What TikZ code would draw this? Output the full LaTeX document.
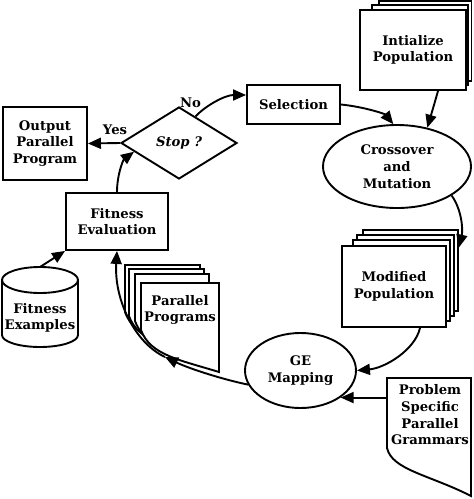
\documentclass[tikz,border=0pt]{standalone}
\usepackage{fontspec}
\setmainfont{DejaVu Serif}
\usetikzlibrary{arrows.meta,shapes.geometric}
\begin{document}
\begin{tikzpicture}[x=1pt,y=-1pt,line width=1.9pt,
  txt/.style={font=\bfseries\fontsize{13.2}{16.7}\selectfont,align=center,inner sep=0pt},
  sheet/.style={draw,fill=white,line width=1.9pt},
  arr/.style={draw,line width=1.9pt,-{Triangle[length=13pt,width=11pt]}}]
\useasboundingbox (0,0) rectangle (474,499);

% Intialize Population
\draw[sheet] (379,1) rectangle (471.5,81);
\draw[sheet] (372,5) rectangle (468,85);
\node[sheet,txt,minimum width=106,minimum height=80] (init) at (413,50) {Intialize\\Population};

% Selection
\node[sheet,txt,minimum width=93,minimum height=39] (sel) at (293.5,104.5) {Selection};

% Crossover and Mutation
\node[sheet,txt,ellipse,minimum width=148,minimum height=83] (cross) at (397,166.5) {Crossover\\and\\Mutation};

% Stop ?
\node[sheet,txt,diamond,minimum width=116,minimum height=72] (stop) at (179,143) {\itshape Stop ?};

% Output Parallel Program
\node[sheet,txt,minimum width=84,minimum height=73] (out) at (45,143.5) {Output\\Parallel\\Program};

% Fitness Evaluation
\node[sheet,txt,minimum width=102,minimum height=57] (fe) at (117,221.5) {Fitness\\Evaluation};

% Fitness Examples (cylinder)
\draw[sheet] (2,280) arc[start angle=180,end angle=360,x radius=38,y radius=13]
  -- (78,335) arc[start angle=0,end angle=180,x radius=38,y radius=12] -- cycle;
\draw (2,280) arc[start angle=180,end angle=0,x radius=38,y radius=13];
\node[txt] (fex) at (40,318) {Fitness\\Examples};
\coordinate (fextop) at (40,267);

% Modified Population
\node[sheet,minimum width=95,minimum height=81,inner sep=0pt] (modback) at (410.5,270.5) {};
\draw[sheet] (357,235) rectangle (454,316);
\draw[sheet] (353,240) rectangle (450,321);
\node[sheet,txt,minimum width=104,minimum height=81] (mod) at (394,286.5) {Modified\\Population};

% GE Mapping
\node[sheet,txt,ellipse,minimum width=111,minimum height=75] (ge) at (300.5,370.5) {GE\\Mapping};

% Parallel Programs
\draw[sheet] (125,265) -- (200,265) -- (200,354) .. controls (162,342) and (134,337) .. (125,312) -- cycle;
\draw[sheet] (129,269) -- (204,269) -- (204,358) .. controls (166,346) and (138,341) .. (129,316) -- cycle;
\draw[sheet] (135,274) -- (209,274) -- (209,363) .. controls (171,351) and (144,346) .. (135,321) -- cycle;
\draw[sheet] (141,283) -- (219,283) -- (219,372) .. controls (180,360) and (150,355) .. (141,330) -- cycle;
\node[txt] (pp) at (180,310) {Parallel\\Programs};
\coordinate (ppin) at (165,357);

% Problem Specific Parallel Grammars
\draw[sheet] (387,378) -- (471,378) -- (471,496) .. controls (430,475) and (392,470) .. (387,448) -- cycle;
\node[txt,minimum width=86] (gram) at (430,415) {Problem\\Specific\\Parallel\\Grammars};

% connectors
\draw[arr] ([xshift=25pt]init.south) .. controls (434,105) .. (cross.52);
\draw[arr] (sel.east) .. controls (365,107) and (385,114) .. (cross.95);
\draw[arr] (cross.-28) .. controls (462,210) and (463,230) .. ([yshift=23pt]modback.east);
\draw[arr] ([xshift=26pt]mod.south) .. controls (415,350) and (385,368) .. (ge.east);
\draw[arr] (gram.west |- ge.-34) -- (ge.-34);
\draw[arr] (ge.195) .. controls (225,380) and (190,369) .. (ppin);
\draw[arr] (ppin) .. controls (135,343) and (114,300) .. (fe.south);
\draw[arr] (fextop) -- (fe.south west);
\draw[arr] (fe.north) .. controls (117,175) and (123,160) .. (stop.191);
\draw[arr] (stop.west) -- (out.east) node[txt,at start,xshift=-5pt,yshift=13pt] {Yes};
\draw[arr] (stop.58) .. controls (205,106) and (225,95) .. ([yshift=9.5pt]sel.west) node[txt,at start,xshift=-5pt,yshift=14pt] {No};
\end{tikzpicture}
\end{document}
